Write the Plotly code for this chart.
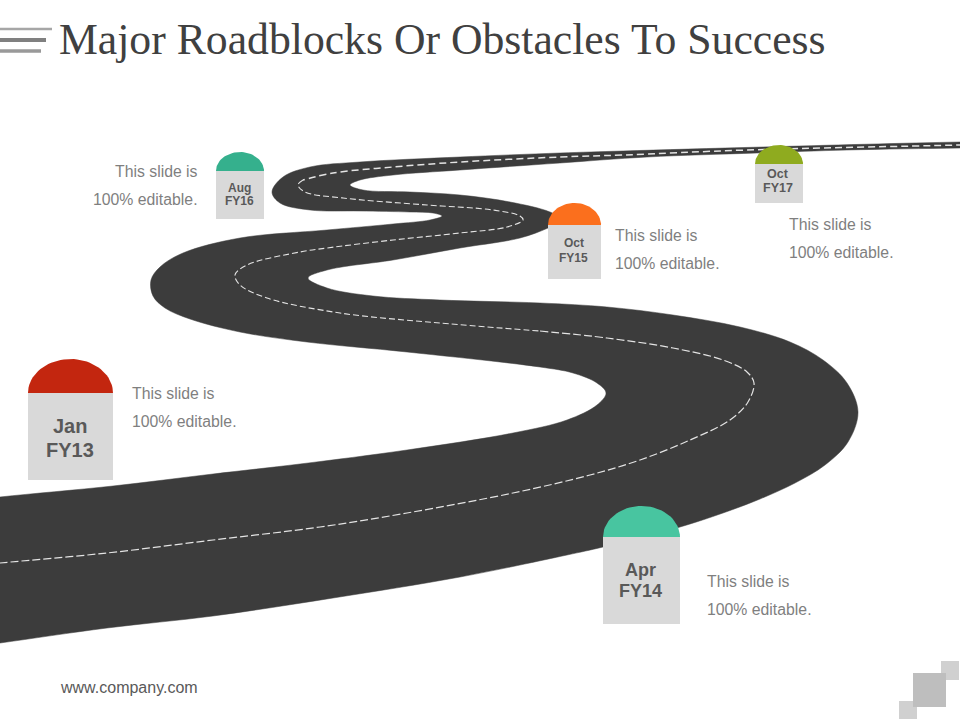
import plotly.graph_objects as go
import numpy as np

TITLE = "Major Roadblocks Or Obstacles To Success"
FOOTER = "www.company.com"
NOTE_1 = "This slide is"
NOTE_2 = "100% editable."

# Road edges (both run a little past the slide at each end)
edge_a_x = [1040,960,763,623,560,460,360,310,283,272,280,310,360,410,433,442,430,393,327,240,183,160,151,153,165,190,240,307,407,540,573,597,606,597,567,513,407,300,213,113,0,-60]
edge_a_y = [141,142,147,151,153,157,162,167,177,192,203,210,211,212,213,216,220,224,230,238,253,267,280,296,308,319,332,342,352,367,373,383,393,405,420,433,450,464,474,486,497,504]
edge_b_x = [1040,960,847,757,647,560,460,393,360,350,363,410,460,510,550,563,548,520,460,393,327,308,327,373,440,540,607,673,740,790,823,847,858,848,825,795,760,723,680,603,567,460,333,213,107,0,-60]
edge_b_y = [147,148,150,153,157,163,170,175,180,185,190,192,195,202,212,220,228,238,248,260,270,278,288,296,300,303,307,315,327,342,360,383,412,442,465,483,499,513,527,547,555,577,598,616,628,643,651]

# Centre line in three stretches
far_x = [1040,960,747,623,560,460,393,333,303]
far_y = [143,145,150,155,157,162,167,173,180]
mid_x = [303,298,305,343,427,493,520,523,507,460,393,327,300,247,235,240,267,340,440,540]
mid_y = [180,185,192,198,205,210,216,220,227,233,240,248,252,265,275,285,298,313,323,331]
near_x = [540,607,673,723,747,754,748,730,690,640,590,513,407,320,213,107,0,-60]
near_y = [331,338,348,360,372,383,402,420,440,460,475,493,513,527,540,553,563,569]

# Milestones
ms_line1 = ["Jan","Apr","Oct","Aug","Oct"]
ms_line2 = ["FY13","FY14","FY15","FY16","FY17"]
ms_left = [28,603,548,216,755]
ms_right = [113,680,601,264,803]
ms_dome_top = [359,506,203,152,145]
ms_base = [393,537,225,171,164]
ms_bottom = [480,624,279,219,203]
ms_colors = ["#c3260f","#48c5a0","#fb6f1d","#35b08d","#8fab1f"]
ms_font = [20,18,12,12,12.5]
ms_y1 = [426,570,243,188,174]
ms_y2 = [450,591,258,201,188]

note_x = [132,707,615,198,789]
note_y1 = [393,581,235,171,224]
note_y2 = [421,609,263,199,252]
note_anchor = ["left","left","left","right","left"]

# Header rules
rule_end = [52,46,41]
rule_y = [29,40,51]
rule_w = [2.6,4,3.4]
rule_c = ["#a6a6a6","#808080","#999999"]

# Corner squares
sq_x0 = [913,941,899]
sq_x1 = [946,959,917]
sq_y0 = [673,661,701]
sq_y1 = [707,680,719]
sq_c = ["rgba(165,165,165,0.72)","rgba(190,190,190,0.72)","rgba(190,190,190,0.72)"]

ROAD = "#3c3c3c"
fig = go.Figure()

fig.add_trace(go.Scatter(x=edge_a_x+edge_b_x[::-1], y=edge_a_y+edge_b_y[::-1], mode="lines",
    line=dict(color=ROAD, width=0.5, shape="spline", smoothing=1), fill="toself", fillcolor=ROAD))
for xs, ys, w, dash in [(far_x,far_y,1.5,"7px,4px"),(mid_x,mid_y,1.1,"6px,3px"),(near_x,near_y,1.2,"8px,3px")]:
    fig.add_trace(go.Scatter(x=xs, y=ys, mode="lines",
        line=dict(color="#e4e4e4", width=w, dash=dash, shape="spline", smoothing=1)))

for i in range(5):
    l, r, t, b, bt = ms_left[i], ms_right[i], ms_dome_top[i], ms_base[i], ms_bottom[i]
    fig.add_trace(go.Scatter(x=[l,r,r,l,l], y=[b,b,bt,bt,b], mode="lines", line=dict(width=0),
                             fill="toself", fillcolor="#d9d9d9"))
    th = np.linspace(np.pi, 0, 41)
    fig.add_trace(go.Scatter(x=(l+r)/2+(r-l)/2*np.cos(th), y=b-(b-t)*np.sin(th), mode="lines",
                             line=dict(width=0), fill="toself", fillcolor=ms_colors[i]))
    for yy, tx in [(ms_y1[i],ms_line1[i]),(ms_y2[i],ms_line2[i])]:
        fig.add_annotation(x=(l+r)/2, y=yy, xshift=-1, text="<b>"+tx+"</b>", showarrow=False,
                           font=dict(family="Liberation Sans", size=ms_font[i], color="#595959"),
                           xanchor="center", yanchor="middle")
    shift = 2 if note_anchor[i] == "right" else -2.5
    for yy, tx in [(note_y1[i],NOTE_1),(note_y2[i],NOTE_2)]:
        fig.add_annotation(x=note_x[i], y=yy, text=tx, showarrow=False, xanchor=note_anchor[i], yanchor="middle",
                           xshift=shift, font=dict(family="Liberation Sans", size=15.8, color="#7f7f7f"))

for e, y, w, c in zip(rule_end, rule_y, rule_w, rule_c):
    fig.add_trace(go.Scatter(x=[0,e], y=[y,y], mode="lines", line=dict(color=c, width=w)))
for x0,x1,y0,y1,c in zip(sq_x0,sq_x1,sq_y0,sq_y1,sq_c):
    fig.add_trace(go.Scatter(x=[x0,x1,x1,x0,x0], y=[y0,y0,y1,y1,y0], mode="lines", line=dict(width=0),
                             fill="toself", fillcolor=c))

fig.add_annotation(x=59, y=39, xshift=-2, text=TITLE, showarrow=False, xanchor="left", yanchor="middle",
                   font=dict(family="Liberation Serif", size=43.7, color="#404040"))
fig.add_annotation(x=61, y=687, xshift=-3, text=FOOTER, showarrow=False, xanchor="left", yanchor="middle",
                   font=dict(family="Liberation Sans", size=16, color="#595959"))

fig.update_xaxes(range=[0,960], visible=False, fixedrange=True)
fig.update_yaxes(range=[720,0], visible=False, fixedrange=True)
fig.update_layout(width=960, height=720, margin=dict(l=0,r=0,t=0,b=0), showlegend=False,
                  paper_bgcolor="white", plot_bgcolor="white", hovermode=False)
fig.write_html("out.html", config=dict(displayModeBar=False),
               post_script="document.body.style.margin='0';document.body.style.overflow='hidden';")
